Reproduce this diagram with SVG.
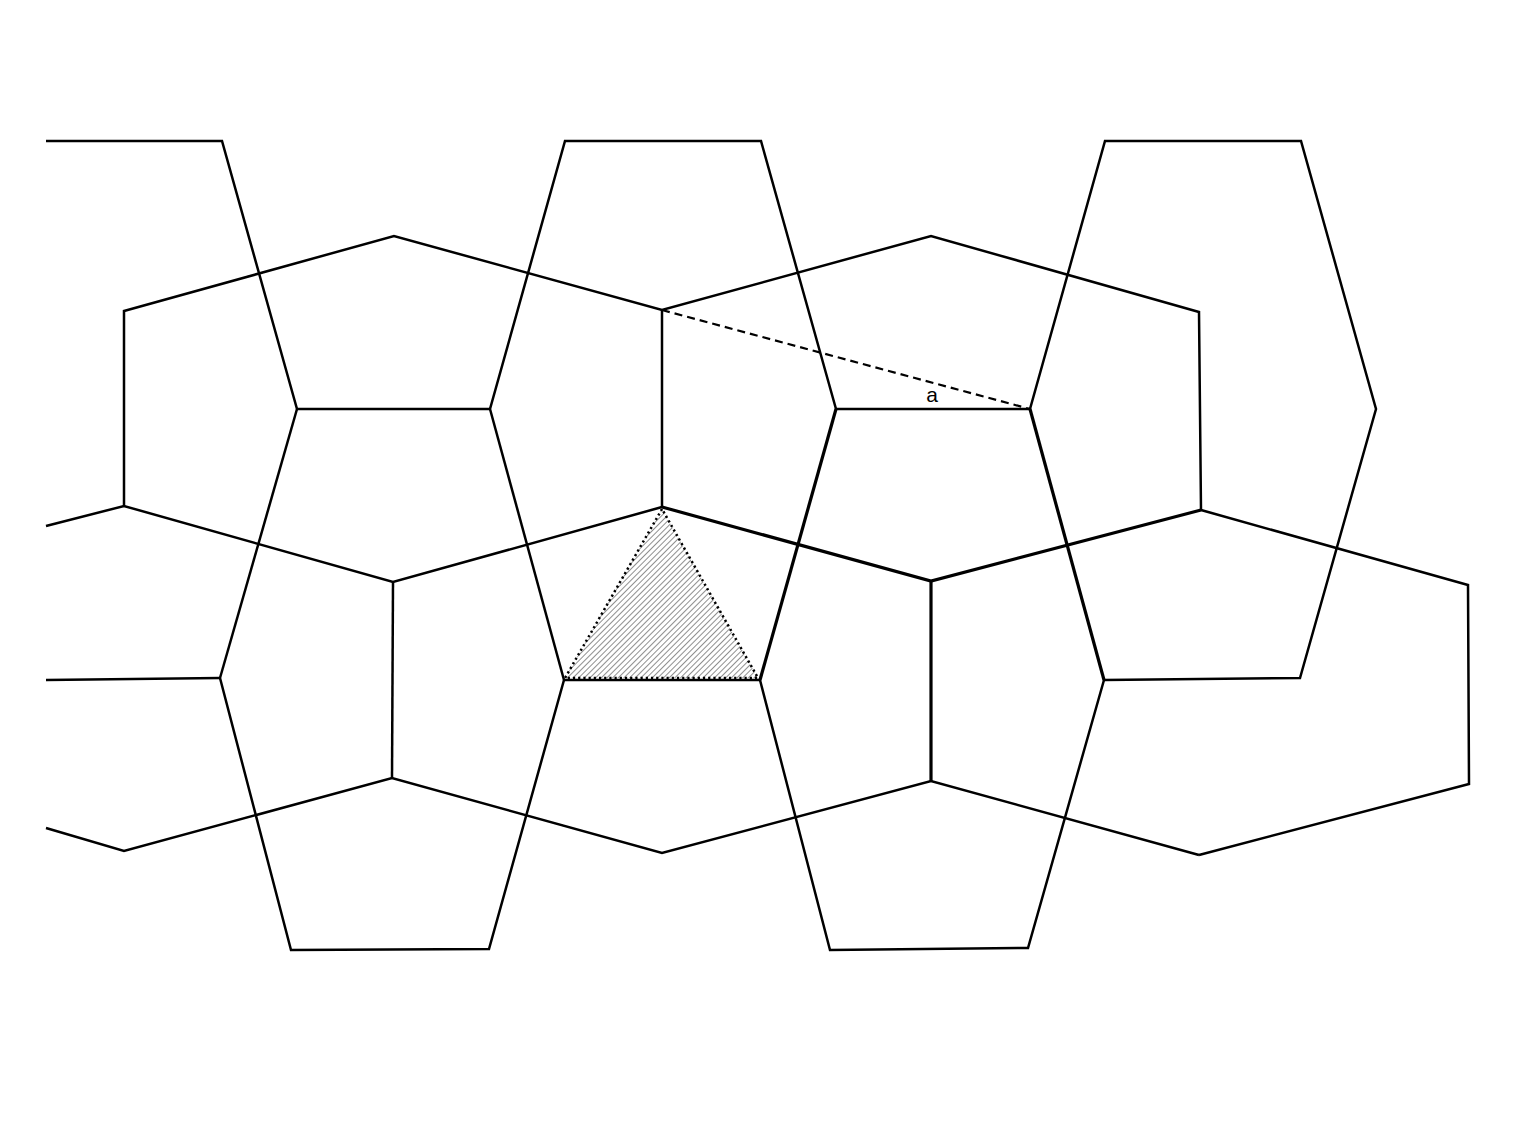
<svg xmlns="http://www.w3.org/2000/svg" width="1532" height="1128" viewBox="0 0 1532 1128">
<defs>
<pattern id="hatch" patternUnits="userSpaceOnUse" width="4" height="4" patternTransform="rotate(45)">
<rect width="4" height="4" fill="#ffffff"/>
<line x1="0" y1="0" x2="0" y2="4" stroke="#444" stroke-width="1.2"/>
</pattern>
</defs>
<style>
.e{fill:none;stroke:#000;stroke-width:2.5;stroke-linejoin:miter;stroke-linecap:butt}
.b{stroke-width:3.2}
.dash{fill:none;stroke:#000;stroke-width:2.2;stroke-dasharray:8 5}
.tri{fill:url(#hatch);stroke:#000;stroke-width:2.5;stroke-dasharray:2.2 3;stroke-linejoin:round}
.lbl{font-family:"Liberation Sans",Arial,sans-serif;font-size:21px;fill:#000}
</style>
<rect width="1532" height="1128" fill="#fff"/>
<g id="tilingA">
<polyline class="e" points="46,141 222,141 297,409"/>
<polyline class="e" points="490,409 565,141 761,141 836,409"/>
<polyline class="e" points="1030,409 1105,141 1301,141 1376,409 1300,678 1104,680"/>
<line class="e" x1="297" y1="409" x2="490" y2="409"/>
<line class="e" x1="836" y1="409" x2="1030" y2="409"/>
<line class="e" x1="297" y1="409" x2="220" y2="678"/>
<line class="e" x1="490" y1="409" x2="564" y2="680"/>
<line class="e b" x1="836" y1="409" x2="760" y2="680"/>
<line class="e b" x1="1030" y1="409" x2="1104" y2="680"/>
<line class="e" x1="46" y1="680" x2="220" y2="678"/>
<line class="e" x1="564" y1="680" x2="760" y2="680"/>
<polyline class="e" points="220,678 291,950 489,949 564,680"/>
<polyline class="e" points="760,680 830,950 1028,948 1104,680"/>
</g>
<g id="tilingB">
<polyline class="e" points="124,506 124,311 394,236 662,310 931,236 1199,312 1201,510"/>
<line class="e" x1="662" y1="310" x2="662" y2="507"/>
<polyline class="e" points="46,526 124,506 393,582 662,507"/>
<polyline class="e b" points="662,507 931,581 1201,510"/>
<polyline class="e" points="1201,510 1468,585 1469,784 1199,855"/>
<line class="e" x1="393" y1="582" x2="392" y2="778"/>
<line class="e b" x1="931" y1="581" x2="931" y2="781"/>
<polyline class="e" points="46,828 124,851 392,778 662,853 931,781 1199,855"/>
</g>
<g id="triangle">
<polygon class="tri" points="662,509 565,678 758,678"/>
</g>
<g id="connectors">
<line class="dash" x1="662" y1="310" x2="1030" y2="409"/>
</g>
<g id="label">
<text class="lbl" x="932" y="402" text-anchor="middle">a</text>
</g>
</svg>
